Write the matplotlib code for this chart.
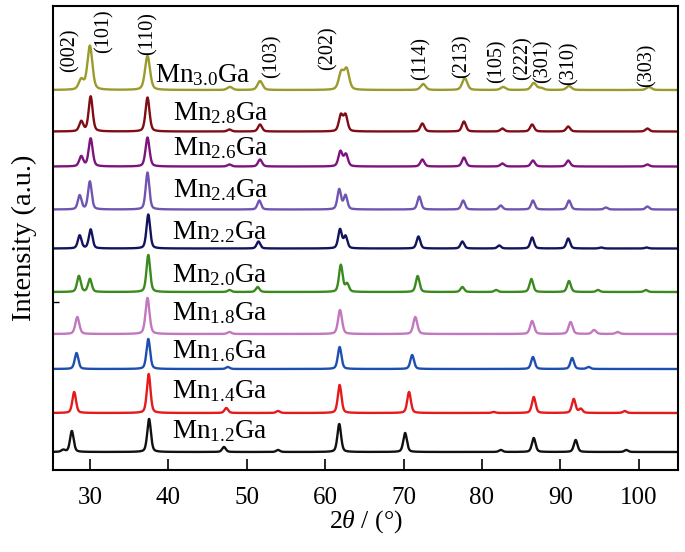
import numpy as np
import matplotlib
matplotlib.use("Agg")
import matplotlib.pyplot as plt

plt.rcParams['font.family'] = ['Liberation Serif', 'DejaVu Serif']
plt.rcParams['mathtext.fontset'] = 'custom'
plt.rcParams['mathtext.rm'] = 'Liberation Serif'
plt.rcParams['mathtext.it'] = 'Liberation Serif:italic'

# ---- data -------------------------------------------------------------
samples = ["1.2", "1.4", "1.6", "1.8", "2.0", "2.2", "2.4", "2.6", "2.8", "3.0"]
offsets = [18, 57, 101, 136, 178, 221.5, 260.5, 303.5, 338.5, 380]
colors = ["#111111", "#e41a1c", "#1f4fae", "#c277c0", "#3a8a1e",
          "#12145e", "#6f55b0", "#7e1380", "#800c14", "#9b9a2c"]
label_y = [32, 72, 112, 150, 188, 231, 273, 315, 350, 388]
label_x = [40.5, 40.5, 40.5, 40.5, 40.5, 40.5, 40.6, 40.6, 40.6, 38.3]

# peak positions (2theta) and heights for each sample
peak_pos = [
    [26.6, 27.7, 37.55, 47.1, 54.0, 61.8, 70.2, 82.4, 86.6, 91.95, 98.4],
    [28.0, 37.5, 47.4, 54.0, 61.85, 70.7, 81.5, 86.6, 91.7, 92.6, 98.2],
    [28.3, 37.45, 47.6, 61.85, 71.1, 86.5, 91.5, 93.6],
    [28.4, 37.35, 47.8, 61.9, 71.5, 86.4, 91.3, 94.3, 97.3],
    [28.6, 30.0, 37.45, 47.8, 51.4, 62.0, 62.8, 71.8, 77.5, 81.8, 86.3, 91.1, 94.8, 100.9],
    [28.7, 30.1, 37.45, 51.5, 61.9, 62.6, 71.9, 77.5, 82.2, 86.4, 91.0, 95.2, 101.0],
    [28.7, 30.0, 37.35, 51.6, 61.8, 62.6, 72.0, 77.6, 82.4, 86.5, 91.1, 95.8, 101.1],
    [28.9, 30.1, 37.35, 47.8, 51.7, 61.95, 62.65, 72.4, 77.7, 82.6, 86.5, 91.0, 101.1],
    [28.9, 30.1, 37.35, 47.8, 51.7, 62.0, 62.6, 72.4, 77.7, 82.6, 86.4, 91.0, 101.1],
    [28.9, 30.0, 37.35, 47.85, 51.7, 62.05, 62.75, 72.5, 77.8, 82.7, 86.6, 87.5, 91.1, 101.3],
]
peak_h = [
    [2, 21, 33, 5, 2, 28, 19, 2, 14, 12, 2],
    [21, 39, 5, 2, 28, 21, 1, 16, 14, 4, 2],
    [16, 30, 2, 22, 14, 12, 11, 2],
    [17, 36, 2, 24, 17, 13, 12, 4, 2],
    [16, 13, 37, 2, 5, 27, 8, 16, 5, 2, 13, 11, 2, 2],
    [13, 19, 34, 7, 19, 12, 12, 7, 3, 11, 10, 1, 1],
    [14, 28, 37, 9, 20, 14, 13, 9, 4, 9, 9, 2, 3],
    [10, 28, 29, 2, 7, 15, 12, 7, 9, 3, 6, 6, 2],
    [10, 35, 34, 2, 7, 16, 16, 8, 10, 3, 7, 5, 3],
    [10, 44, 34, 3, 9, 17, 20, 6, 12, 3, 7, 2, 4, 3],
]
peak_w = [0.55, 0.55, 0.55, 0.6, 0.55, 0.55, 0.55, 0.6, 0.6, 0.75]

hkl_labels = ["(002)", "(101)", "(110)", "(103)", "(202)", "(114)", "(213)",
              "(105)", "(222)", "(301)", "(310)", "(303)"]
hkl_x = [27.45, 31.8, 37.4, 53.2, 60.35, 72.2, 77.4, 81.9, 85.2, 87.75, 91.1, 101.0]
hkl_y = [398, 417, 415, 392, 400, 390, 392, 387, 390, 387, 385, 383]

xticks = [30, 40, 50, 60, 70, 80, 90, 100]

# ---- figure -----------------------------------------------------------
fig = plt.figure(figsize=(6.85, 5.52), dpi=100)
ax = fig.add_axes([0.0774, 0.1486, 0.9124, 0.8405])

x = np.arange(25.3, 105.0, 0.02)
for s, off, col, pos, hts, w in zip(samples, offsets, colors, peak_pos, peak_h, peak_w):
    y = np.full_like(x, off, dtype=float)
    for p, h in zip(pos, hts):
        g = w / 2.0
        lor = 1.0 / (1.0 + ((x - p) / g) ** 2)
        gau = np.exp(-np.log(2) * ((x - p) / g) ** 2)
        y += h * (0.6 * gau + 0.4 * lor)
    ax.plot(x, y, color=col, lw=1.7, solid_joinstyle='round')

for s, lx, ly in zip(samples, label_x, label_y):
    ax.text(lx, ly, "Mn$_{" + s + "}$Ga", fontsize=19.5, va='baseline', ha='left')

for t, hx, hy in zip(hkl_labels, hkl_x, hkl_y):
    ax.text(hx, hy, t, rotation=90, fontsize=14.5, ha='center', va='bottom')

ax.set_xlim(25.3, 105.0)
ax.set_ylim(0, 464)
ax.set_xticks(xticks)
ax.set_xticklabels([str(v) for v in xticks], fontsize=18)
ax.set_yticks([168])
ax.set_yticklabels([])
ax.tick_params(axis='x', direction='in', length=8, width=1.2, pad=12)
ax.tick_params(axis='y', direction='in', length=4, width=1.0)
for sp in ax.spines.values():
    sp.set_linewidth(1.5)

ax.set_xlabel("2$\\mathit{\\theta}$ / (°)", fontsize=18.5, labelpad=0)
ax.set_ylabel("Intensity (a.u.)", fontsize=20.5, labelpad=8)

fig.savefig("out.png", dpi=100)
